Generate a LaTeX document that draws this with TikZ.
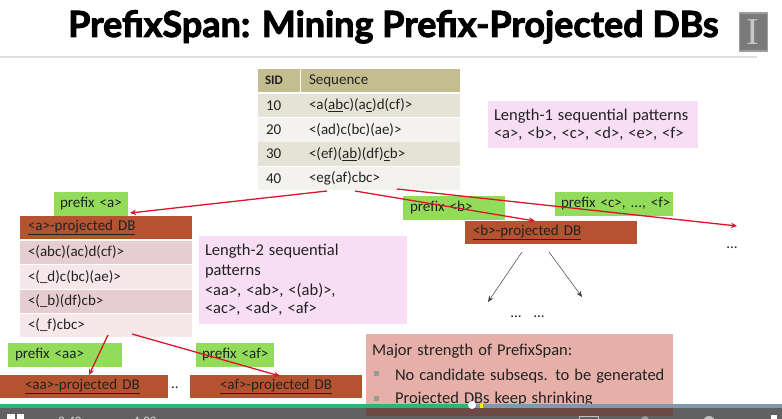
\documentclass[tikz,border=0pt]{standalone}
\usepackage{fontspec}
\setmainfont{Carlito}
\newfontfamily\titlefont[BoldFeatures={FakeBold=2.6}]{Lato}
\newfontfamily\logofont{Liberation Serif}
\usetikzlibrary{arrows.meta}
\definecolor{hdr}{HTML}{C4BD8F}
\definecolor{rowa}{HTML}{E4E3D6}
\definecolor{rowb}{HTML}{F3F2EE}
\definecolor{pinkbg}{HTML}{F7DEF5}
\definecolor{prefixg}{HTML}{92DC5A}
\definecolor{dbbrown}{HTML}{B55330}
\definecolor{dbrowa}{HTML}{E6CDD2}
\definecolor{dbrowb}{HTML}{F6E7EB}
\definecolor{major}{HTML}{E6B0A8}
\definecolor{arrowred}{HTML}{D9142B}
\definecolor{ink}{HTML}{222222}
\definecolor{bargreen}{HTML}{2FB478}
\definecolor{barblue}{HTML}{7F9AAE}
\definecolor{bardark}{HTML}{616161}
\definecolor{bardarkbox}{HTML}{6B4A45}
\tikzset{
  x=1pt,y=-1pt,
  bxs/.style={anchor=north west,inner ysep=0pt,outer sep=0pt,align=left,font=\fontsize{15}{18}\selectfont,text=ink},
  redarrow/.style={draw=arrowred,line width=1.3pt,-{Stealth[length=6pt,width=5.5pt]}},
  blackarrow/.style={draw=black!75,line width=.5pt,-{Stealth[length=6pt,width=5pt]}},
  dotstext/.style={font=\fontsize{15}{18}\selectfont,text=ink},
  bullet/.style={fill=black!40,minimum size=5pt,inner sep=0pt},
  timetext/.style={anchor=base west,inner sep=0pt,text=white!85!black,font=\fontsize{13}{15}\selectfont},
}
\newcommand\bigtext{\fontsize{16.5}{20.3}\selectfont}
% name, x1, y1, x2, y2, fill, left sep, text
\newcommand\bx[8]{%
  \pgfmathsetmacro\bxw{#4-#2}\pgfmathsetmacro\bxh{#5-#3}\pgfmathsetmacro\bxt{#4-#2-2*#7}%
  \node[bxs,fill=#6,inner xsep=#7pt,minimum width=\bxw pt,minimum height=\bxh pt,text width=\bxt pt] (#1) at (#2,#3) {#8};}
\begin{document}
\begin{tikzpicture}
\useasboundingbox (0,0) rectangle (782,419);
\fill[white] (0,0) rectangle (782,419);
% title
\node[anchor=base west,inner sep=0pt,text=black,font=\titlefont\bfseries\fontsize{36}{38}\selectfont] (title) at (68,37) {PrefixSpan: Mining Prefix-Projected DBs};
\coordinate (ruleL) at (0,57); \coordinate (ruleR) at (757,57);
\draw[black!13,line width=2pt] (ruleL) -- (ruleR);
% logo
\node[anchor=north west,fill=black!52,draw=black!38,line width=1.2pt,minimum width=28pt,minimum height=38pt,inner sep=0pt,text=black!22,font=\logofont\fontsize{38}{38}\selectfont] (logo) at (738.5,12.5) {I};
% table
\bx{hsid}{258}{69}{300}{92}{hdr}{7}{\fontsize{13}{15}\selectfont\textbf{SID}}
\bx{hseq}{301}{69}{460}{92}{hdr}{8}{Sequence}
\bx{sa}{258}{94}{300}{117}{rowa}{8}{10}
\bx{qa}{300}{94}{460}{117}{rowa}{9}{<a(\underline{ab}c)(a\underline{c})d(cf)>}
\bx{sb}{258}{118}{300}{142}{rowb}{8}{20}
\bx{qb}{300}{118}{460}{142}{rowb}{9}{<(ad)c(bc)(ae)>}
\bx{sc}{258}{142}{300}{166}{rowa}{8}{30}
\bx{qc}{300}{142}{460}{166}{rowa}{9}{<(ef)(\underline{ab})(df)\underline{c}b>}
\bx{sd}{258}{167}{300}{190}{rowb}{8}{40}
\bx{qd}{300}{167}{460}{190}{rowb}{9}{<eg(af)cbc>}
% length-1
\bx{lenone}{488}{101}{698}{148}{pinkbg}{6}{\bigtext\mbox{Length-1 sequential patterns}\\\mbox{<a>, <b>, <c>, <d>, <e>, <f>}}
% prefixes
\bx{pa}{54}{192}{128}{216}{prefixg}{6}{\mbox{prefix <a>}}
\bx{pb}{403}{196}{505}{220}{prefixg}{7}{\mbox{prefix <b>}}
\bx{pc}{555}{192}{673}{216}{prefixg}{6}{\mbox{prefix <c>, ..., <f>}}
\bx{paa}{8}{343}{122}{367}{prefixg}{7}{\mbox{prefix <aa>}}
\bx{paf}{196}{343}{274}{367}{prefixg}{6}{\mbox{prefix <af>}}
% a-projected
\bx{dba}{20}{216}{192}{239}{dbbrown}{8}{\underline{<a>-projected DB}}
\bx{ra}{20}{241}{192}{264}{dbrowa}{8}{<(abc)(ac)d(cf)>}
\bx{rb}{20}{265}{192}{289}{dbrowb}{8}{<(\_d)c(bc)(ae)>}
\bx{rc}{20}{290}{192}{313}{dbrowa}{8}{<(\_b)(df)cb>}
\bx{rd}{20}{314}{192}{337}{dbrowb}{8}{<(\_f)cbc>}
% length-2
\bx{lentwo}{199}{236}{407}{324}{pinkbg}{6}{\bigtext Length-2 sequential\\patterns\\<aa>, <ab>, <(ab)>,\\<ac>, <ad>, <af>}
% other projected
\bx{dbb}{465}{221}{637}{244}{dbbrown}{8}{\underline{<b>-projected DB}}
\bx{dbaa}{0}{375}{168}{398}{dbbrown}{25}{\underline{<aa>-projected DB}}
\bx{dbaf}{190}{375}{362}{398}{dbbrown}{30}{\underline{<af>-projected DB}}
\node[dotstext,anchor=center,inner sep=0pt] (dotsa) at (175,388) {..};
\node[dotstext,anchor=center,inner sep=0pt] (dotsb) at (732,248) {...};
\node[dotstext,anchor=center,inner sep=0pt] (dotsc) at (516,317) {...};
\node[dotstext,anchor=center,inner sep=0pt] (dotsd) at (539,317) {...};
% major strength
\bx{mj}{366}{334}{673}{416}{major}{6}{\bigtext\mbox{Major strength of PrefixSpan:}\\[5pt]\hspace*{23pt}\mbox{No candidate subseqs. to be generated}\\[5pt]\hspace*{23pt}\mbox{Projected DBs keep shrinking}}
\node[bullet] (bulla) at (376,374) {};
\node[bullet] (bullb) at (376,399) {};
% arrows
\coordinate (sa0) at (327,191); \coordinate (ea0) at (130,213);
\coordinate (sb0) at (355,191); \coordinate (eb0) at (535,221);
\coordinate (sc0) at (397,189); \coordinate (ec0) at (737,226);
\coordinate (saa) at (108,335); \coordinate (eaa) at (89,375);
\coordinate (saf) at (132,334); \coordinate (eaf) at (280,376);
\coordinate (sl) at (522,252); \coordinate (el) at (488,302);
\coordinate (sr) at (549,252); \coordinate (er) at (582,297);
\draw[redarrow] (sa0) -- (ea0);
\draw[redarrow] (sb0) -- (eb0);
\draw[redarrow] (sc0) -- (ec0);
\draw[redarrow] (saa) -- (eaa);
\draw[redarrow] (saf) -- (eaf);
\draw[blackarrow] (sl) -- (el);
\draw[blackarrow] (sr) -- (er);
% player bar
\fill[bardark] (0,408) rectangle (782,419);
\fill[bardarkbox] (366,408) rectangle (673,416);
\fill[barblue] (0,404) rectangle (782,408);
\fill[bargreen] (0,404) rectangle (472,408);
\fill[yellow] (480,404) rectangle (483,408);
\fill[white] (472,405) circle (4);
\fill[white] (7,414) rectangle (15,419);
\fill[white] (17,414) rectangle (24,419);
\begin{scope}
\clip (0,408) rectangle (782,419);
\node[timetext] (tnow) at (58,426) {2:40};
\node[timetext] (tall) at (133,426) {4:02};
\draw[white!75!black,line width=1pt] (579,424) rectangle (598,417);
\fill[white!75!black] (709,422) circle (6);
\fill[white!60!black] (645,420) circle (4);
\fill[white] (771,415) -- (777,415) -- (777,419) -- (771,419) -- cycle;
\end{scope}
\end{tikzpicture}
\end{document}
